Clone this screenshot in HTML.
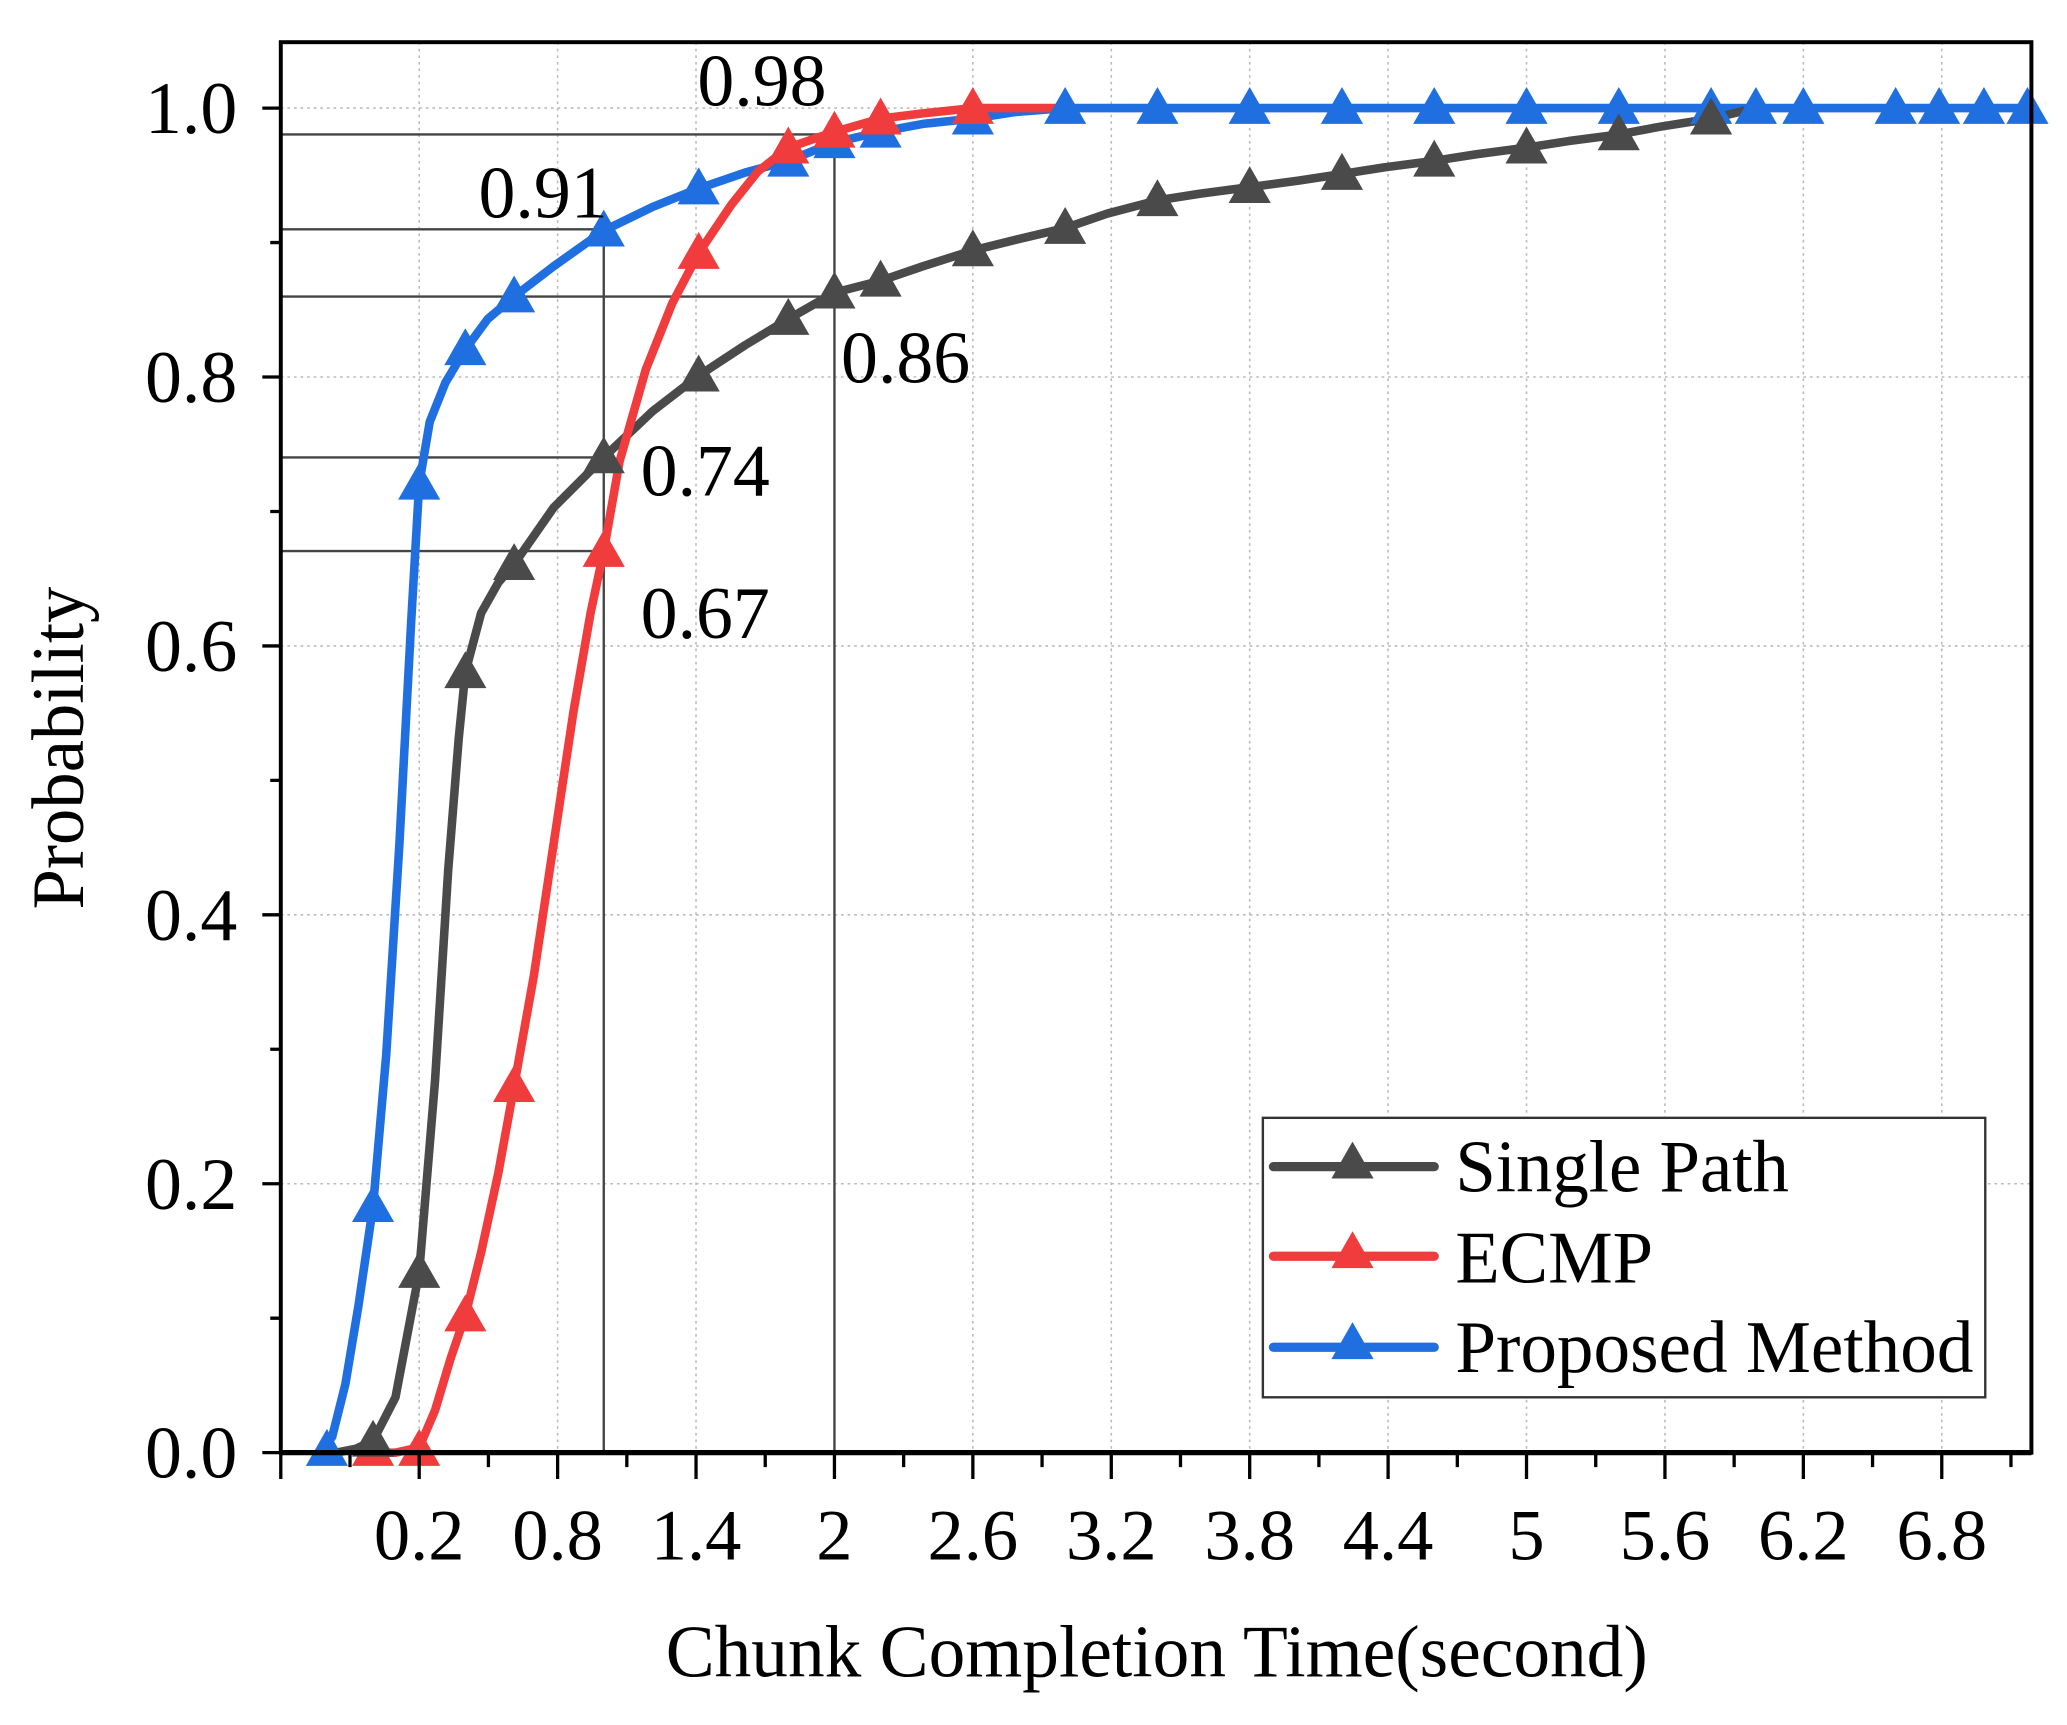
<!DOCTYPE html>
<html><head><meta charset="utf-8"><style>html,body{margin:0;padding:0;background:#fff}svg{display:block}</style></head>
<body>
<svg width="2067" height="1725" viewBox="0 0 1568 1308.6" preserveAspectRatio="none" xmlns="http://www.w3.org/2000/svg" font-family="'Liberation Serif', serif">
<defs>
<path id="t" d="M0,-16 L16,12 L-16,12 Z"/>
</defs>
<rect width="1568" height="1309" fill="#fff"/>
<g stroke="#bbb" stroke-width="1.2" stroke-dasharray="2,3" fill="none">
<path d="M213,898H1540M213,694H1540M213,490H1540M213,286H1540M213,82H1540"/>
<path d="M318,32V1102M423,32V1102M528,32V1102M738,32V1102M843,32V1102M948,32V1102M1053,32V1102M1158,32V1102M1263,32V1102M1368,32V1102M1473,32V1102"/>
</g>
<g stroke="#444" stroke-width="1.8" fill="none">
<path d="M213,102H633M213,174H458M213,225H633M213,347H458M213,418H458M458,174V1102M633,100V1102"/>
</g>
<g fill="none" stroke-width="6.5" stroke-linejoin="round" stroke-linecap="round">
<polyline stroke="#1f6fe0" points="243,1102 252,1090 262,1050 272,990 283,915 293,800 303,640 312,470 318,367 326,320 338,290 353,265 370,242 390,225 420,202 458,175 495,157 530,143 565,131 598,122 633,108 668,100 700,94 738,90 770,85 808,82 1540,82"/>
<polyline stroke="#4a4a4a" points="255,1102 270,1099 283,1093 300,1060 318,965 330,820 340,660 348,560 353,510 365,465 378,442 390,428 420,385 458,347 495,312 530,285 565,262 598,242 633,222 668,213 700,202 738,190 770,182 808,173 840,162 878,152 910,147 948,142 985,137 1018,132 1050,127 1088,122 1120,117 1158,112 1190,107 1228,102 1260,96 1298,90 1332,82"/>
<polyline stroke="#f03c3c" points="283,1102 300,1102 318,1098 330,1070 342,1030 353,998 365,950 378,890 390,824 405,740 420,640 435,540 448,465 458,418 470,350 490,280 510,230 530,192 555,155 575,130 598,112 633,100 668,90 700,86 738,82 808,82"/>
</g>
<g fill="#1f6fe0">
<use href="#t" x="248" y="1100"/><use href="#t" x="283" y="915"/><use href="#t" x="318" y="367"/><use href="#t" x="353" y="265"/><use href="#t" x="390" y="225"/><use href="#t" x="458" y="175"/><use href="#t" x="530" y="143"/><use href="#t" x="598" y="122"/><use href="#t" x="633" y="108"/><use href="#t" x="668" y="100"/><use href="#t" x="738" y="90"/><use href="#t" x="808" y="82"/><use href="#t" x="878" y="82"/><use href="#t" x="948" y="82"/><use href="#t" x="1018" y="82"/><use href="#t" x="1088" y="82"/><use href="#t" x="1158" y="82"/><use href="#t" x="1228" y="82"/><use href="#t" x="1298" y="82"/><use href="#t" x="1332" y="82"/><use href="#t" x="1368" y="82"/><use href="#t" x="1438" y="82"/><use href="#t" x="1471" y="82"/><use href="#t" x="1505" y="82"/><use href="#t" x="1538" y="82"/>
</g>
<g fill="#f03c3c">
<use href="#t" x="283" y="1100"/><use href="#t" x="318" y="1100"/><use href="#t" x="353" y="998"/><use href="#t" x="390" y="824"/><use href="#t" x="458" y="418"/><use href="#t" x="530" y="192"/><use href="#t" x="598" y="112"/><use href="#t" x="633" y="100"/><use href="#t" x="668" y="90"/><use href="#t" x="738" y="82"/>
</g>
<g fill="#4a4a4a">
<use href="#t" x="283" y="1093"/><use href="#t" x="318" y="965"/><use href="#t" x="353" y="510"/><use href="#t" x="390" y="428"/><use href="#t" x="458" y="347"/><use href="#t" x="530" y="285"/><use href="#t" x="598" y="242"/><use href="#t" x="633" y="222"/><use href="#t" x="668" y="213"/><use href="#t" x="738" y="190"/><use href="#t" x="808" y="173"/><use href="#t" x="878" y="152"/><use href="#t" x="948" y="142"/><use href="#t" x="1018" y="132"/><use href="#t" x="1088" y="122"/><use href="#t" x="1158" y="112"/><use href="#t" x="1228" y="102"/><use href="#t" x="1298" y="90"/>
</g>
<g stroke="#000" fill="none">
<rect x="213" y="32" width="1328" height="1070" stroke-width="3"/>
<path d="M213,1102H1541" stroke-width="4"/>
<path stroke-width="2.5" d="M213,1102v20M318,1102v20M423,1102v20M528,1102v20M633,1102v20M738,1102v20M843,1102v20M948,1102v20M1053,1102v20M1158,1102v20M1263,1102v20M1368,1102v20M1473,1102v20M265.5,1102v11M370.5,1102v11M475.5,1102v11M580.5,1102v11M685.5,1102v11M790.5,1102v11M895.5,1102v11M1000.5,1102v11M1105.5,1102v11M1210.5,1102v11M1315.5,1102v11M1420.5,1102v11M1525.5,1102v11"/>
<path stroke-width="2.5" d="M213,1102h-14M213,898h-14M213,694h-14M213,490h-14M213,286h-14M213,82h-14M213,1000h-8M213,796h-8M213,592h-8M213,388h-8M213,184h-8"/>
</g>
<g font-size="56" fill="#000" text-anchor="end">
<text x="180" y="1121">0.0</text><text x="180" y="917">0.2</text><text x="180" y="713">0.4</text><text x="180" y="509">0.6</text><text x="180" y="305">0.8</text><text x="180" y="101">1.0</text>
</g>
<g font-size="55" fill="#000" text-anchor="middle">
<text x="318" y="1183">0.2</text><text x="423" y="1183">0.8</text><text x="528" y="1183">1.4</text><text x="633" y="1183">2</text><text x="738" y="1183">2.6</text><text x="843" y="1183">3.2</text><text x="948" y="1183">3.8</text><text x="1053" y="1183">4.4</text><text x="1158" y="1183">5</text><text x="1263" y="1183">5.6</text><text x="1368" y="1183">6.2</text><text x="1473" y="1183">6.8</text>
</g>
<g font-size="56" fill="#000" text-anchor="middle">
<text x="578" y="80">0.98</text><text x="412" y="165">0.91</text><text x="687" y="290">0.86</text><text x="535" y="376">0.74</text><text x="535" y="484">0.67</text>
</g>
<text x="505" y="1272" font-size="56" textLength="745" lengthAdjust="spacingAndGlyphs">Chunk Completion Time(second)</text>
<text transform="translate(63,690) rotate(-90)" font-size="56" textLength="245" lengthAdjust="spacingAndGlyphs">Probability</text>
<rect x="958" y="848" width="548" height="212" fill="#fff" stroke="#333" stroke-width="1.8"/>
<g stroke-width="7" stroke-linecap="round">
<path d="M966,885H1088" stroke="#4a4a4a"/><path d="M966,953H1088" stroke="#f03c3c"/><path d="M966,1022H1088" stroke="#1f6fe0"/>
</g>
<use href="#t" x="1026" y="882" fill="#4a4a4a"/><use href="#t" x="1026" y="950" fill="#f03c3c"/><use href="#t" x="1026" y="1019" fill="#1f6fe0"/>
<g font-size="56" fill="#000">
<text x="1104" y="904" textLength="253" lengthAdjust="spacingAndGlyphs">Single Path</text>
<text x="1104" y="973" textLength="150" lengthAdjust="spacingAndGlyphs">ECMP</text>
<text x="1104" y="1041" textLength="393" lengthAdjust="spacingAndGlyphs">Proposed Method</text>
</g>
</svg>
</body></html>
